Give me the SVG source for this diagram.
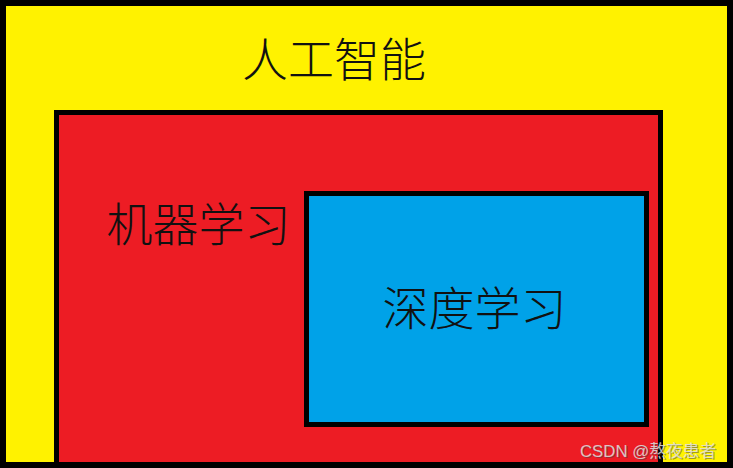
<svg xmlns="http://www.w3.org/2000/svg" width="733" height="468" viewBox="0 0 733 468">
<style>
.box{stroke:#000;stroke-width:5}
.lbl{font-family:"Noto Sans CJK SC","Noto Sans CJK JP",sans-serif;font-size:46px;font-weight:300;fill:#111;text-anchor:middle}
.wm{font-family:"Liberation Sans","Noto Sans CJK SC",sans-serif;font-size:16.8px;text-anchor:start}
</style>
<g id="ai">
<rect x="3" y="3" width="727" height="462" fill="#FFF200" stroke="#000" stroke-width="6"/>
<text class="lbl" x="334" y="76">人工智能</text>
</g>
<g id="ml">
<rect class="box" x="56.5" y="112.5" width="604" height="360" fill="#ED1C24"/>
<text class="lbl" x="198.5" y="241">机器学习</text>
</g>
<g id="dl">
<rect class="box" x="306.5" y="193.5" width="340" height="231" fill="#00A2E8"/>
<text class="lbl" x="474.5" y="325">深度学习</text>
</g>
<rect x="0" y="462" width="733" height="6" fill="#000"/>
<g id="connectors"/>
<g id="watermark">
<text class="wm" x="581" y="458" fill="#444" fill-opacity="0.5">CSDN @熬夜患者</text>
<text class="wm" x="580" y="457" fill="#e0e0e0" fill-opacity="0.85">CSDN @熬夜患者</text>
</g>
</svg>
